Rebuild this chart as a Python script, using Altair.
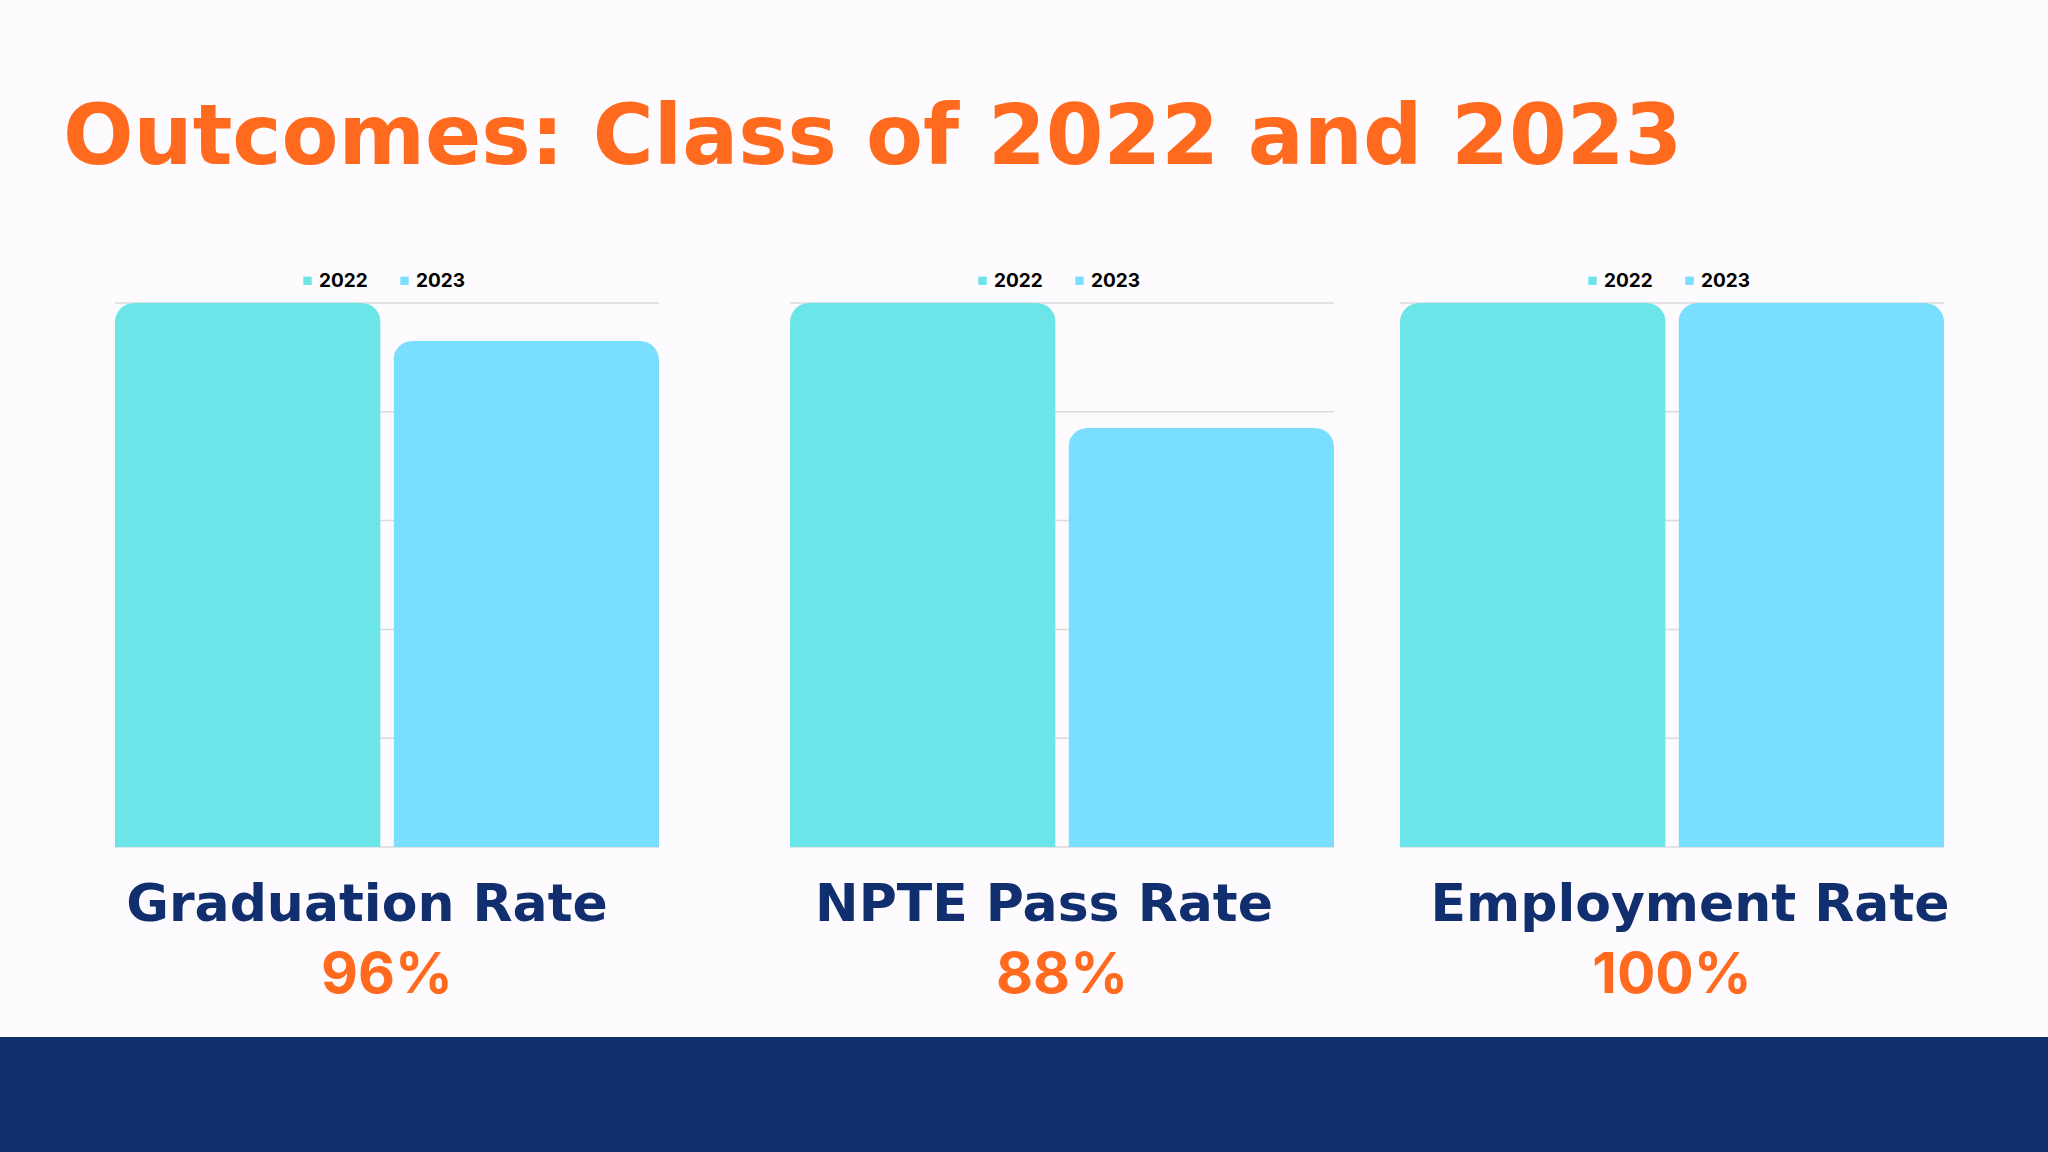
import altair as alt
import pandas as pd

# ---- data ---------------------------------------------------------------
title_text = "Outcomes: Class of 2022 and 2023"
metrics = ["Graduation Rate", "NPTE Pass Rate", "Employment Rate"]
summary = ["96%", "88%", "100%"]
years = ["2022", "2023"]
rate_2022 = [100, 100, 100]
rate_2023 = [93, 77, 100]
grid_ticks = [0, 20, 40, 60, 80, 100]

# ---- style / layout -----------------------------------------------------
W, H = 2048, 1152
BG = "#FDFBFD"
ORANGE = "#FF6A1F"
NAVY = "#112F6E"
BAR_COLORS = ["#6CE5E8", "#7ADFFF"]
GRID = "#DCDADC"
FONT = "Inter"
HEAD_FONT = "DejaVu Sans"

panel_spans = [(115, 659), (790, 1334), (1400, 1944)]
name_dx = [-20, -18, 18]
plot_top, plot_bottom = 303, 847

y_scale = alt.Scale(domain=[0, 100], range=[plot_bottom, plot_top], nice=False)


def panel(i):
    left, right = panel_spans[i]
    cx = (left + right) / 2

    bars_df = pd.DataFrame({"year": years, "rate": [rate_2022[i], rate_2023[i]]})
    x_scale = alt.Scale(domain=years, range=[left, right],
                        paddingInner=0.046, paddingOuter=0)
    color_scale = alt.Scale(domain=years, range=BAR_COLORS)

    grid = alt.Chart(pd.DataFrame({"tick": grid_ticks})).mark_rule(
        color=GRID, strokeWidth=1.5
    ).encode(
        x=alt.value(left), x2=alt.value(right),
        y=alt.Y("tick:Q", scale=y_scale, axis=None),
    )

    bars = alt.Chart(bars_df).mark_bar(
        cornerRadiusTopLeft=19, cornerRadiusTopRight=19
    ).encode(
        x=alt.X("year:N", scale=x_scale, axis=None),
        y=alt.Y("rate:Q", scale=y_scale, axis=None),
        color=alt.Color(
            "year:N", scale=color_scale,
            legend=alt.Legend(
                title=None, orient="none", direction="horizontal",
                legendX=cx - 89, legendY=271, padding=0,
                symbolType="square", symbolSize=70, symbolStrokeWidth=0,
                labelFont=FONT, labelFontSize=19, labelFontWeight="bold",
                labelColor="#000000", labelOffset=2, columnPadding=27,
            ),
        ),
    )

    label_df = pd.DataFrame({"name": [metrics[i]], "pct": [summary[i]]})
    name = alt.Chart(label_df).mark_text(
        font=HEAD_FONT, fontSize=52, fontWeight="bold", color=NAVY,
        align="center", baseline="alphabetic", dx=name_dx[i],
    ).encode(x=alt.value(cx), y=alt.value(921), text="name:N")

    pct = alt.Chart(label_df).mark_text(
        font=FONT, fontSize=57, fontWeight="bold", color=ORANGE,
        align="center", baseline="alphabetic",
    ).encode(x=alt.value(cx), y=alt.value(993), text="pct:N")

    return alt.layer(grid, bars, name, pct)


footer = alt.Chart(pd.DataFrame({"band": [1]})).mark_rect(color=NAVY).encode(
    x=alt.value(0), x2=alt.value(W), y=alt.value(1037), y2=alt.value(H)
)

title = alt.Chart(pd.DataFrame({"t": [title_text]})).mark_text(
    font=HEAD_FONT, fontSize=83, fontWeight="bold", color=ORANGE,
    align="left", baseline="alphabetic",
).encode(x=alt.value(63), y=alt.value(164), text="t:N")

chart = alt.layer(
    footer, title, panel(0), panel(1), panel(2)
).resolve_scale(
    x="independent", color="independent"
).properties(
    width=W, height=H,
    autosize=alt.AutoSizeParams(type="none"),
    padding=0,
    background=BG,
).configure_view(stroke=None)

chart.save("out.html", embed_options={"renderer": "svg", "actions": False})
